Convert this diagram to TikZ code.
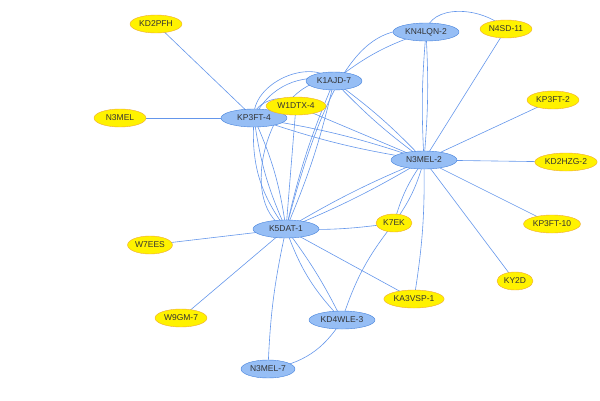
\documentclass[tikz,border=0pt]{standalone}
\usepackage{fontspec}
\setmainfont{Liberation Sans}
\usetikzlibrary{shapes.geometric}
\begin{document}
\begin{tikzpicture}[x=1pt,y=-1pt,
  e/.style={draw=blue!55!cyan!70!white, line width=0.6pt, color={rgb,255:red,100;green,150;blue,235}},
  bn/.style={ellipse, draw={rgb,255:red,70;green,130;blue,220}, fill={rgb,255:red,150;green,190;blue,245}, inner sep=1pt, minimum height=18pt, minimum width=66pt, font=\fontsize{8.5}{10}\selectfont, text={rgb,255:red,50;green,50;blue,50}},
  yn/.style={ellipse, draw={rgb,255:red,240;green,170;blue,50}, fill=yellow, inner sep=1pt, minimum height=18pt, minimum width=52pt, font=\fontsize{8.5}{10}\selectfont, text={rgb,255:red,50;green,50;blue,50}}]
\useasboundingbox (0,0) rectangle (600,400);
\begin{scope}[every path/.style={draw={rgb,255:red,100;green,150;blue,235}, line width=0.6pt}]
\coordinate (kd2pfh) at (156,24);
\coordinate (n3mel) at (120,118);
\coordinate (kp4) at (254,118);
\coordinate (w1) at (296,106);
\coordinate (k1) at (334,81);
\coordinate (kn4) at (426,32);
\coordinate (n4sd) at (506,29);
\coordinate (kp2) at (553,100);
\coordinate (n32) at (424,160);
\coordinate (kd2h) at (566,162);
\coordinate (k5) at (286,229);
\coordinate (k7) at (394,223);
\coordinate (kp10) at (552,224);
\coordinate (w7) at (150,245);
\coordinate (ky) at (515,281);
\coordinate (ka3) at (414,299);
\coordinate (w9) at (181,318);
\coordinate (kd4) at (342,320);
\coordinate (n37) at (268,369);
\draw (kd2pfh) -- (kp4);
\draw (n3mel) -- (kp4);
\draw (kp4) to[bend left=5] (n32);
\draw (kp4) to[bend right=5] (n32);
\draw (kp4) to[bend left=8] (k5);
\draw (kp4) to[bend right=8] (k5);
\draw (kp4) to[bend right=20] (k5);
\draw (kp4) to[bend left=40] (k1);
\draw (kp4) to[bend left=70] (k1);
\draw (kp4) to[bend left=80] (w1);
\draw (w1) -- (n32);
\draw (w1) -- (k5);
\draw (k1) to[bend left=5] (n32);
\draw (k1) to[bend right=5] (n32);
\draw (k1) to[bend left=5] (k5);
\draw (k1) to[bend right=5] (k5);
\draw (k1) to[bend right=80] (k5);
\draw (k1) to[bend left=10] (kn4);
\draw (k5) .. controls (330,60) and (370,20) .. (kn4);
\draw (kn4) .. controls (430,5) and (480,5) .. (n4sd);
\draw (kn4) to[bend left=4] (n32);
\draw (kn4) to[bend right=4] (n32);
\draw (n4sd) -- (n32);
\draw (n32) -- (kp2);
\draw (n32) -- (kd2h);
\draw (n32) -- (kp10);
\draw (n32) -- (ky);
\draw (n32) to[bend left=5] (ka3);
\draw (n32) to[bend left=10] (k7);
\draw (n32) to[bend right=10] (k7);
\draw (n32) to[bend left=4] (k5);
\draw (n32) to[bend right=4] (k5);
\draw (k5) to[bend right=5] (k7);
\draw (k5) -- (w7);
\draw (k5) -- (w9);
\draw (k5) to[bend right=5] (n37);
\draw (k5) to[bend left=5] (kd4);
\draw (k5) to[bend right=12] (kd4);
\draw (k5) -- (ka3);
\draw (k7) to[bend right=10] (kd4);
\draw (kd4) to[bend left=25] (n37);
\end{scope}
\node[yn] (a) at (kd2pfh) {KD2PFH};
\node[yn] (b) at (n3mel) {N3MEL};
\node[bn] (c) at (kp4) {KP3FT-4};
\node[yn,minimum width=60pt] (d) at (w1) {W1DTX-4};
\node[bn,minimum width=56pt] (f) at (k1) {K1AJD-7};
\node[bn] (g) at (kn4) {KN4LQN-2};
\node[yn] (h) at (n4sd) {N4SD-11};
\node[yn] (i) at (kp2) {KP3FT-2};
\node[bn] (j) at (n32) {N3MEL-2};
\node[yn,minimum width=60pt] (k) at (kd2h) {KD2HZG-2};
\node[bn] (l) at (k5) {K5DAT-1};
\node[yn,minimum width=36pt] (m) at (k7) {K7EK};
\node[yn] (n) at (kp10) {KP3FT-10};
\node[yn,minimum width=44pt] (o) at (w7) {W7EES};
\node[yn,minimum width=36pt] (p) at (ky) {KY2D};
\node[yn,minimum width=60pt] (q) at (ka3) {KA3VSP-1};
\node[yn] (r) at (w9) {W9GM-7};
\node[bn] (s) at (kd4) {KD4WLE-3};
\node[bn,minimum width=54pt] (t) at (n37) {N3MEL-7};
\end{tikzpicture}
\end{document}
